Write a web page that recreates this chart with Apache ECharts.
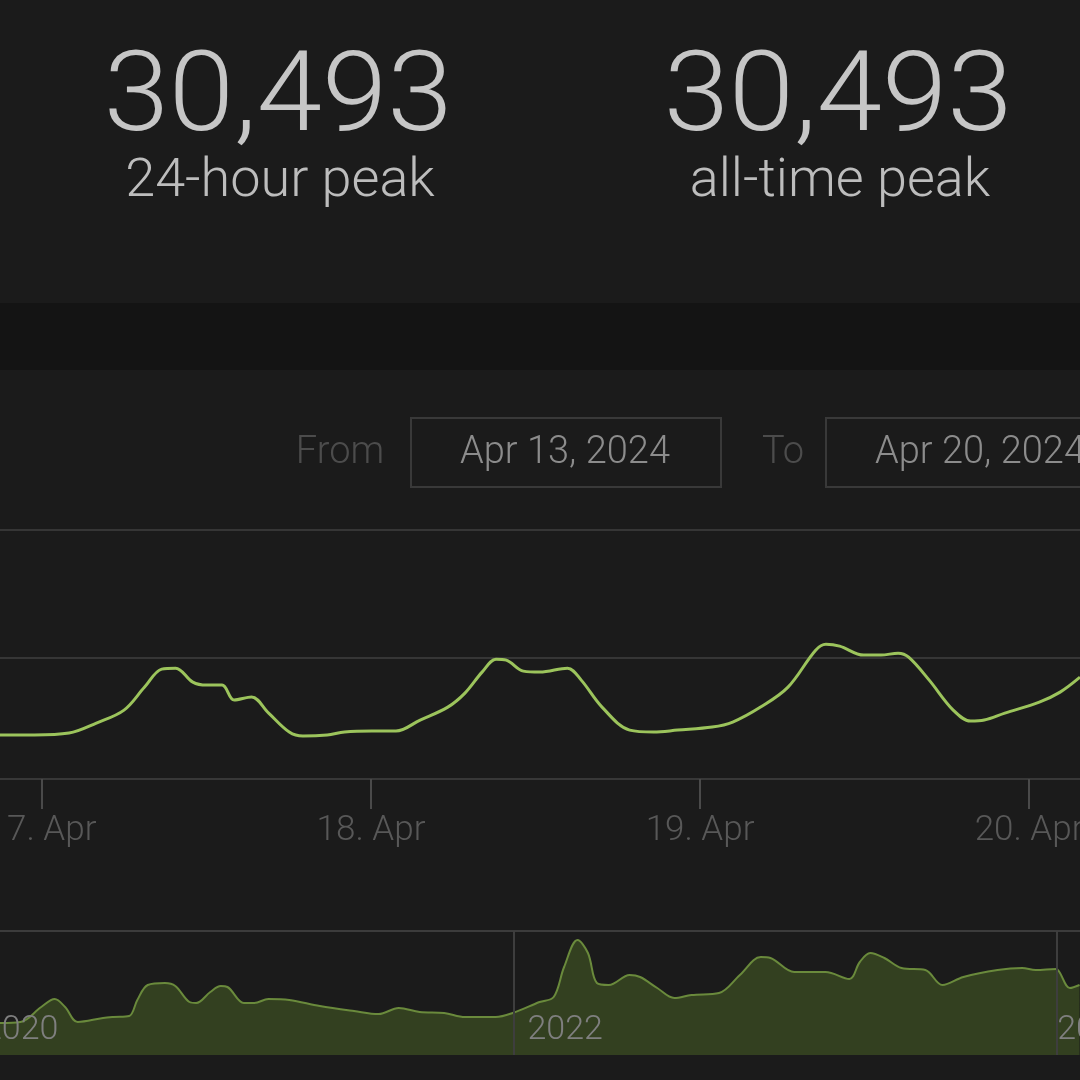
<!DOCTYPE html>
<html>
<head>
	<meta charset="utf-8">
	<script src="https://cdn.jsdelivr.net/npm/echarts@6/dist/echarts.min.js"></script>
	<style>
		html, body { margin: 0; padding: 0; background: #1b1b1b; }
	</style>
</head>
<body>
	<div id="main" style="width: 1080px; height: 1080px"></div>
	<script type="text/javascript">
		// header numbers and range picker texts
		var peak24h = '30,493';
		var peakAllTime = '30,493';
		var rangeFrom = 'Apr 13, 2024';
		var rangeTo = 'Apr 20, 2024';

		// players over the selected week
		var mainTimes = [
			'2024-04-16 20:56', '2024-04-16 23:27', '2024-04-17 01:58', '2024-04-17 03:58', '2024-04-17 05:59',
			'2024-04-17 07:29', '2024-04-17 08:44', '2024-04-17 09:45', '2024-04-17 11:00', '2024-04-17 12:00',
			'2024-04-17 13:08', '2024-04-17 14:01', '2024-04-17 15:17', '2024-04-17 16:32', '2024-04-17 18:02',
			'2024-04-17 19:02', '2024-04-17 20:48', '2024-04-17 22:04', '2024-04-18 00:04', '2024-04-18 01:49',
			'2024-04-18 03:35', '2024-04-18 05:36', '2024-04-18 06:51', '2024-04-18 08:06', '2024-04-18 09:07',
			'2024-04-18 09:52', '2024-04-18 11:07', '2024-04-18 12:19', '2024-04-18 14:20', '2024-04-18 15:20',
			'2024-04-18 16:51', '2024-04-18 18:52', '2024-04-18 20:37', '2024-04-18 22:22', '2024-04-19 00:53',
			'2024-04-19 02:23', '2024-04-19 04:25', '2024-04-19 06:25', '2024-04-19 08:26', '2024-04-19 09:11',
			'2024-04-19 10:11', '2024-04-19 11:56', '2024-04-19 13:12', '2024-04-19 14:27', '2024-04-19 15:13',
			'2024-04-19 16:43', '2024-04-19 18:28', '2024-04-19 19:44', '2024-04-19 20:44', '2024-04-19 22:14',
			'2024-04-20 00:45', '2024-04-20 02:16', '2024-04-20 03:43'
		];
		var mainPlayers = [
			5430, 5430, 5670, 6910, 8510,
			11350, 13570, 13690, 11970, 11600,
			11600, 9750, 10120, 8140, 5800,
			5300, 5430, 5800, 5920, 5920,
			7280, 8880, 10610, 13200, 14800,
			14680, 13320, 13200, 13690, 12210,
			8880, 6040, 5800, 6040, 6410,
			7030, 8880, 11350, 15910, 16650,
			16410, 15300, 15300, 15540, 15050,
			12210, 8510, 7150, 7280, 8140,
			9500, 10730, 12580
		];

		// long range navigator, 2020 to early 2024
		var navDates = [
			'2020-02-11', '2020-03-10', '2020-04-07', '2020-04-25', '2020-05-09', '2020-05-26',
			'2020-06-29', '2020-07-13', '2020-08-03', '2020-08-14', '2020-08-28', '2020-09-20',
			'2020-10-04', '2020-10-23', '2020-11-01', '2020-11-20', '2020-12-04', '2020-12-13',
			'2021-01-04', '2021-01-18', '2021-02-06', '2021-03-06', '2021-04-16', '2021-06-01',
			'2021-07-04', '2021-07-31', '2021-08-28', '2021-09-30', '2021-10-28', '2021-12-08',
			'2021-12-31', '2022-02-05', '2022-02-24', '2022-03-10', '2022-03-28', '2022-04-11',
			'2022-04-23', '2022-05-09', '2022-06-06', '2022-06-20', '2022-07-13', '2022-08-05',
			'2022-08-28', '2022-10-04', '2022-11-01', '2022-11-29', '2022-12-12', '2023-01-13',
			'2023-02-24', '2023-03-28', '2023-04-11', '2023-04-25', '2023-05-14', '2023-06-06',
			'2023-07-08', '2023-07-31', '2023-08-28', '2023-10-13', '2023-11-15', '2023-12-03',
			'2023-12-31', '2024-01-04', '2024-01-18', '2024-01-31'
		];
		var navPlayers = [
			6400, 6600, 9600, 11200, 9600, 6600,
			7400, 7600, 7800, 11000, 14000, 14400,
			13800, 10600, 10400, 12600, 13800, 13600,
			10400, 10400, 11200, 11000, 9800, 8800,
			8200, 9400, 8600, 8400, 7600, 7600,
			8400, 10600, 11600, 17600, 23000, 20400,
			14400, 14000, 16000, 15600, 13400, 11400,
			12000, 12400, 16000, 19600, 19400, 16600,
			16600, 15200, 18600, 20400, 19400, 17400,
			17000, 14000, 15600, 17000, 17400, 17000,
			17200, 16600, 13400, 14000
		];

		var mainData = mainTimes.map(function (t, i) { return [t, mainPlayers[i]]; });
		var navData = navDates.map(function (t, i) { return [t, navPlayers[i]]; });

		var FONT = 'Roboto';
		var myChart = echarts.init(document.getElementById('main'));
		var option = {
			backgroundColor: '#1b1b1b',
			animation: false,
			graphic: [
				{ type: 'rect', shape: { x: 0, y: 303, width: 1080, height: 67 }, style: { fill: '#141414' } },
				{
					type: 'text', x: 278, y: 102, scaleX: 1.05,
					style: { text: peak24h, fill: '#c6c6c6', fontSize: 112, fontFamily: FONT, fontWeight: 300, align: 'center', verticalAlign: 'middle', shadowColor: '#000', shadowBlur: 4, shadowOffsetY: 2 }
				},
				{
					type: 'text', x: 280, y: 182,
					style: { text: '24-hour peak', fill: '#bdbdbd', fontSize: 54, fontFamily: FONT, fontWeight: 300, align: 'center', verticalAlign: 'middle' }
				},
				{
					type: 'text', x: 838, y: 102, scaleX: 1.05,
					style: { text: peakAllTime, fill: '#c6c6c6', fontSize: 112, fontFamily: FONT, fontWeight: 300, align: 'center', verticalAlign: 'middle', shadowColor: '#000', shadowBlur: 4, shadowOffsetY: 2 }
				},
				{
					type: 'text', x: 840, y: 182,
					style: { text: 'all-time peak', fill: '#bdbdbd', fontSize: 54, fontFamily: FONT, fontWeight: 300, align: 'center', verticalAlign: 'middle' }
				},
				// range picker
				{
					type: 'text', x: 340, y: 453,
					style: { text: 'From', fill: '#4c4c4c', fontSize: 38, fontFamily: FONT, fontWeight: 300, align: 'center', verticalAlign: 'middle' }
				},
				{ type: 'rect', shape: { x: 411, y: 418, width: 310, height: 69 }, style: { fill: 'none', stroke: '#393939', lineWidth: 2 } },
				{
					type: 'text', x: 565, y: 453,
					style: { text: rangeFrom, fill: '#8c8c8c', fontSize: 38, fontFamily: FONT, fontWeight: 300, align: 'center', verticalAlign: 'middle' }
				},
				{
					type: 'text', x: 783, y: 453,
					style: { text: 'To', fill: '#4c4c4c', fontSize: 38, fontFamily: FONT, fontWeight: 300, align: 'center', verticalAlign: 'middle' }
				},
				{ type: 'rect', shape: { x: 826, y: 418, width: 310, height: 69 }, style: { fill: 'none', stroke: '#393939', lineWidth: 2 } },
				{
					type: 'text', x: 980, y: 453,
					style: { text: rangeTo, fill: '#8c8c8c', fontSize: 38, fontFamily: FONT, fontWeight: 300, align: 'center', verticalAlign: 'middle' }
				}
			],
			grid: [
				// main chart, 329px per day, 16 Apr 00:00 sits off-canvas at x=-287
				{ left: -287, right: 0, top: 530, height: 249, containLabel: false, outerBoundsMode: 'none' },
				// navigator, 2020-01-01 sits at x=-31, right edge pushed just off-canvas
				{ left: -31, right: -4, top: 931, height: 124, containLabel: false, outerBoundsMode: 'none' }
			],
			xAxis: [
				{
					type: 'time', gridIndex: 0,
					min: '2024-04-16', max: '2024-04-20 03:43',
					minInterval: 86400000, maxInterval: 86400000,
					axisLine: { lineStyle: { color: '#383838', width: 2 } },
					axisTick: { show: true, length: 30, lineStyle: { color: '#4a4a4a', width: 2 } },
					axisLabel: { formatter: '{d}. {MMM}', color: '#585858', fontSize: 35, fontFamily: FONT, fontWeight: 300, margin: 35, showMaxLabel: false },
					splitLine: { show: false }
				},
				{
					// drawn above the area so the year lines and labels show through it
					type: 'time', gridIndex: 1, z: 5,
					min: '2020-01-01', max: '2024-02-06',
					minInterval: 2 * 365 * 86400000,
					axisLine: { show: false },
					axisTick: { show: false },
					axisLabel: {
						formatter: function (value) {
							var year = new Date(value).getFullYear();
							// the last year label is pulled back against its line
							return year >= 2024 ? '{edge|' + year + '}' : '{mid|' + year + '}';
						},
						rich: {
							mid: { padding: [0, 0, 0, 14], color: '#7f7f7f', fontSize: 34, fontFamily: FONT, fontWeight: 300 },
							edge: { padding: [0, 0, 0, 0], color: '#7f7f7f', fontSize: 34, fontFamily: FONT, fontWeight: 300 }
						},
						inside: true, hideOverlap: false,
						align: 'left', verticalAlign: 'bottom', margin: 8,
						color: '#7f7f7f', fontSize: 34, fontFamily: FONT, fontWeight: 300,
						showMinLabel: true, showMaxLabel: false
					},
					splitLine: { show: true, lineStyle: { color: '#3e3e3e', width: 2 } }
				}
			],
			yAxis: [
				{
					// ticks 0, 15000, 30000 and the top edge; the 30000 line is hidden
					type: 'value', gridIndex: 0, min: 0, max: 30750, interval: 15000,
					axisLine: { show: false }, axisTick: { show: false }, axisLabel: { show: false },
					splitLine: { lineStyle: { color: ['#363636', '#363636', 'transparent', '#363636'], width: 2 } }
				},
				{
					type: 'value', gridIndex: 1, min: 0, max: 24800, interval: 24800,
					axisLine: { show: false }, axisTick: { show: false }, axisLabel: { show: false },
					splitLine: { lineStyle: { color: ['transparent', '#3c3c3c'], width: 2 } }
				}
			],
			series: [
				{
					name: 'Players', type: 'line', xAxisIndex: 0, yAxisIndex: 0,
					data: mainData, smooth: 0.35, showSymbol: false,
					lineStyle: { color: '#9cc45c', width: 3 }
				},
				{
					name: 'Navigator', type: 'line', xAxisIndex: 1, yAxisIndex: 1,
					data: navData, smooth: 0.35, showSymbol: false,
					lineStyle: { color: '#6a8a3c', width: 2 },
					areaStyle: { color: '#334020', opacity: 1 }
				}
			]
		};
		myChart.setOption(option);
	</script>
</body>
</html>
